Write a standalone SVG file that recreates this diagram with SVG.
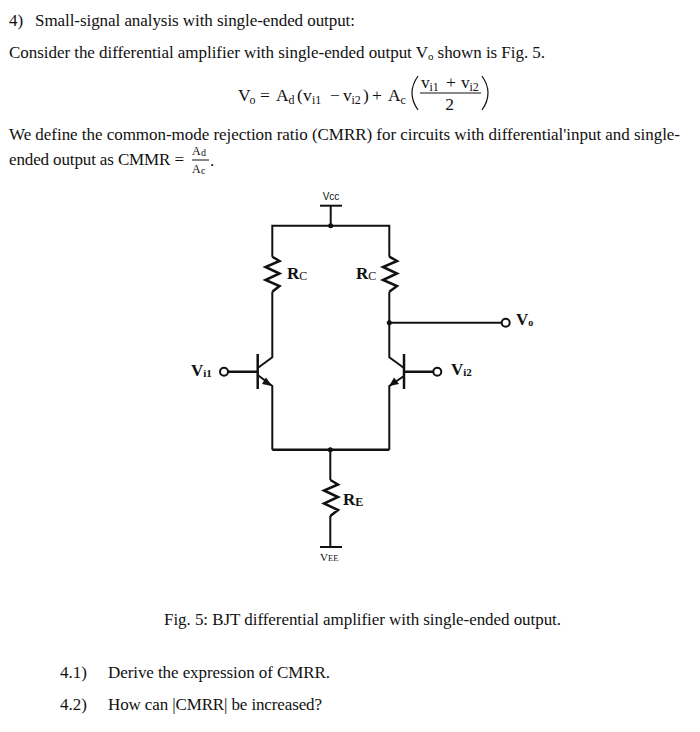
<svg xmlns="http://www.w3.org/2000/svg" width="700" height="732" viewBox="0 0 700 732">
<style>
text{font-family:"Liberation Serif",serif;font-size:17px;fill:#111}
.m{font-size:17.500px}
.u{font-size:12px}
.b{font-weight:bold}
.w{fill:none;stroke:#111;stroke-width:2}
.t{fill:none;stroke:#111;stroke-width:2.500}
.o{fill:#fff;stroke:#111;stroke-width:2}
.d{fill:#111;stroke:none}
.s{font-family:"Liberation Sans",sans-serif;font-size:10px}
.thin{fill:none;stroke:#111;stroke-width:1.200}
</style>
<rect width="700" height="732" fill="#fff"/>
<g id="text-top">
<text x="9" y="26">4)</text>
<text x="35" y="26" textLength="320">Small-signal analysis with single-ended output:</text>
<text x="9" y="58" textLength="536">Consider the differential amplifier with single-ended output V<tspan font-size="11" dy="2">o</tspan><tspan dy="-2"> shown is Fig. 5.</tspan></text>
<text x="9" y="140" textLength="671">We define the common-mode rejection ratio (CMRR) for circuits with differential'input and single-</text>
<text x="9" y="165" textLength="175">ended output as CMMR =</text>
<text x="210" y="166">.</text>
</g>
<g id="equation">
<text class="m" x="238" y="101">V<tspan class="u" x="249.500" dy="3">o</tspan><tspan x="260" dy="-3">=</tspan><tspan x="276">A</tspan><tspan class="u" x="288.500" dy="3">d</tspan><tspan x="297" dy="-3">(</tspan><tspan x="303">v</tspan><tspan class="u" x="312" dy="3">i1</tspan><tspan x="330" dy="-3">−</tspan><tspan x="343">v</tspan><tspan class="u" x="351.500" dy="3">i2</tspan><tspan x="363" dy="-3">)</tspan><tspan x="372">+</tspan><tspan x="388">A</tspan><tspan class="u" x="400.500" dy="3">c</tspan></text>
<path class="thin" d="M418 76Q406 93 418 110M482 76Q494 93 482 110"/>
<text class="m" x="421" y="88">v<tspan class="u" x="429.500" dy="3">i1</tspan><tspan x="446" dy="-3">+</tspan><tspan x="461">v</tspan><tspan class="u" x="469.500" dy="3">i2</tspan></text>
<line x1="420" y1="93" x2="481" y2="93" stroke="#111" stroke-width="1"/>
<text class="m" x="449.500" y="110" text-anchor="middle">2</text>
<text style="font-size:12px" x="192" y="155">A<tspan style="font-size:10px" x="201" dy="1">d</tspan></text>
<line x1="192" y1="160" x2="209" y2="160" stroke="#111" stroke-width="1"/>
<text style="font-size:12px" x="192" y="173">A<tspan style="font-size:10px" x="201" dy="1">c</tspan></text>
</g>
<g id="connectors">
<path class="w" d="M272.300 256.700V225.700H389.300V256.700"/>
<path class="w" d="M330.700 205.700V225.700"/>
<path class="w" d="M272.300 291.700V357.300L257.700 368"/>
<path class="w" d="M257.700 375L272.300 386V449.700"/>
<path class="w" d="M389.300 291.700V357.300L404 368"/>
<path class="w" d="M404 376L389.300 386V449.700"/>
<path class="t" d="M272.300 449.700H389.300"/>
<path class="w" d="M330.300 449.700V480M330.300 516V547"/>
<path class="w" d="M389.300 322.700H501"/>
<path class="t" d="M228 371.700H257.700M404 371.700H433"/>
</g>
<g id="vcc"><path class="w" d="M320 205.700H342"/><circle class="d" cx="330.700" cy="225.700" r="2.500"/><text class="s" x="331" y="200" text-anchor="middle">Vcc</text></g>
<g id="vee"><path class="w" d="M320 547H342"/><text style="font-size:11px" x="320" y="561">V<tspan style="font-size:8.500px">EE</tspan></text></g>
<g id="rc1"><path class="t" d="M272.300 256.700L279.500 261L265.500 267L279.500 273.500L265.500 280L279.500 286L272.300 291.700"/><text class="b" x="287" y="279">R<tspan font-size="12" dy="1" font-weight="normal">C</tspan></text></g>
<g id="rc2"><path class="t" d="M389.300 256.700L397 261L383 267L397 273.500L383 280L397 286L389.300 291.700"/><text class="b" x="356" y="279">R<tspan font-size="12" dy="1" font-weight="normal">C</tspan></text></g>
<g id="re"><path class="t" d="M330.300 480L338 484.500L324 490.500L338 497L324 503.500L338 510L330.300 516"/><text class="b" x="343" y="505">R<tspan font-size="12" dy="1">E</tspan></text></g>
<g id="q1"><path class="t" d="M257.700 354V389"/><path class="d" d="M272 386L262 384L266 377.500Z"/></g>
<g id="q2"><path class="t" d="M404 354V389"/><path class="d" d="M389.300 386L399 384L394 377.500Z"/></g>
<g id="vi1"><circle class="o" cx="224" cy="371.700" r="4"/><text class="b" x="191" y="376">V<tspan font-size="11" dy="1">i1</tspan></text></g>
<g id="vi2"><circle class="o" cx="437.300" cy="371.700" r="4"/><text class="b" x="451" y="375">V<tspan font-size="11" dy="1">i2</tspan></text></g>
<g id="vo"><circle class="d" cx="389.300" cy="322.700" r="2.500"/><circle class="d" cx="330.300" cy="449.700" r="2.500"/><circle class="o" cx="505.700" cy="322.700" r="4"/><text class="b" x="516" y="325">V<tspan font-size="10" dy="1">o</tspan></text></g>
<g id="text-bottom">
<text x="164" y="625" textLength="397">Fig. 5: BJT differential amplifier with single-ended output.</text>
<text x="60" y="678">4.1)</text><text x="108" y="678" textLength="222">Derive the expression of CMRR.</text>
<text x="60" y="710">4.2)</text><text x="108" y="710" textLength="214">How can |CMRR| be increased?</text>
</g>
</svg>
